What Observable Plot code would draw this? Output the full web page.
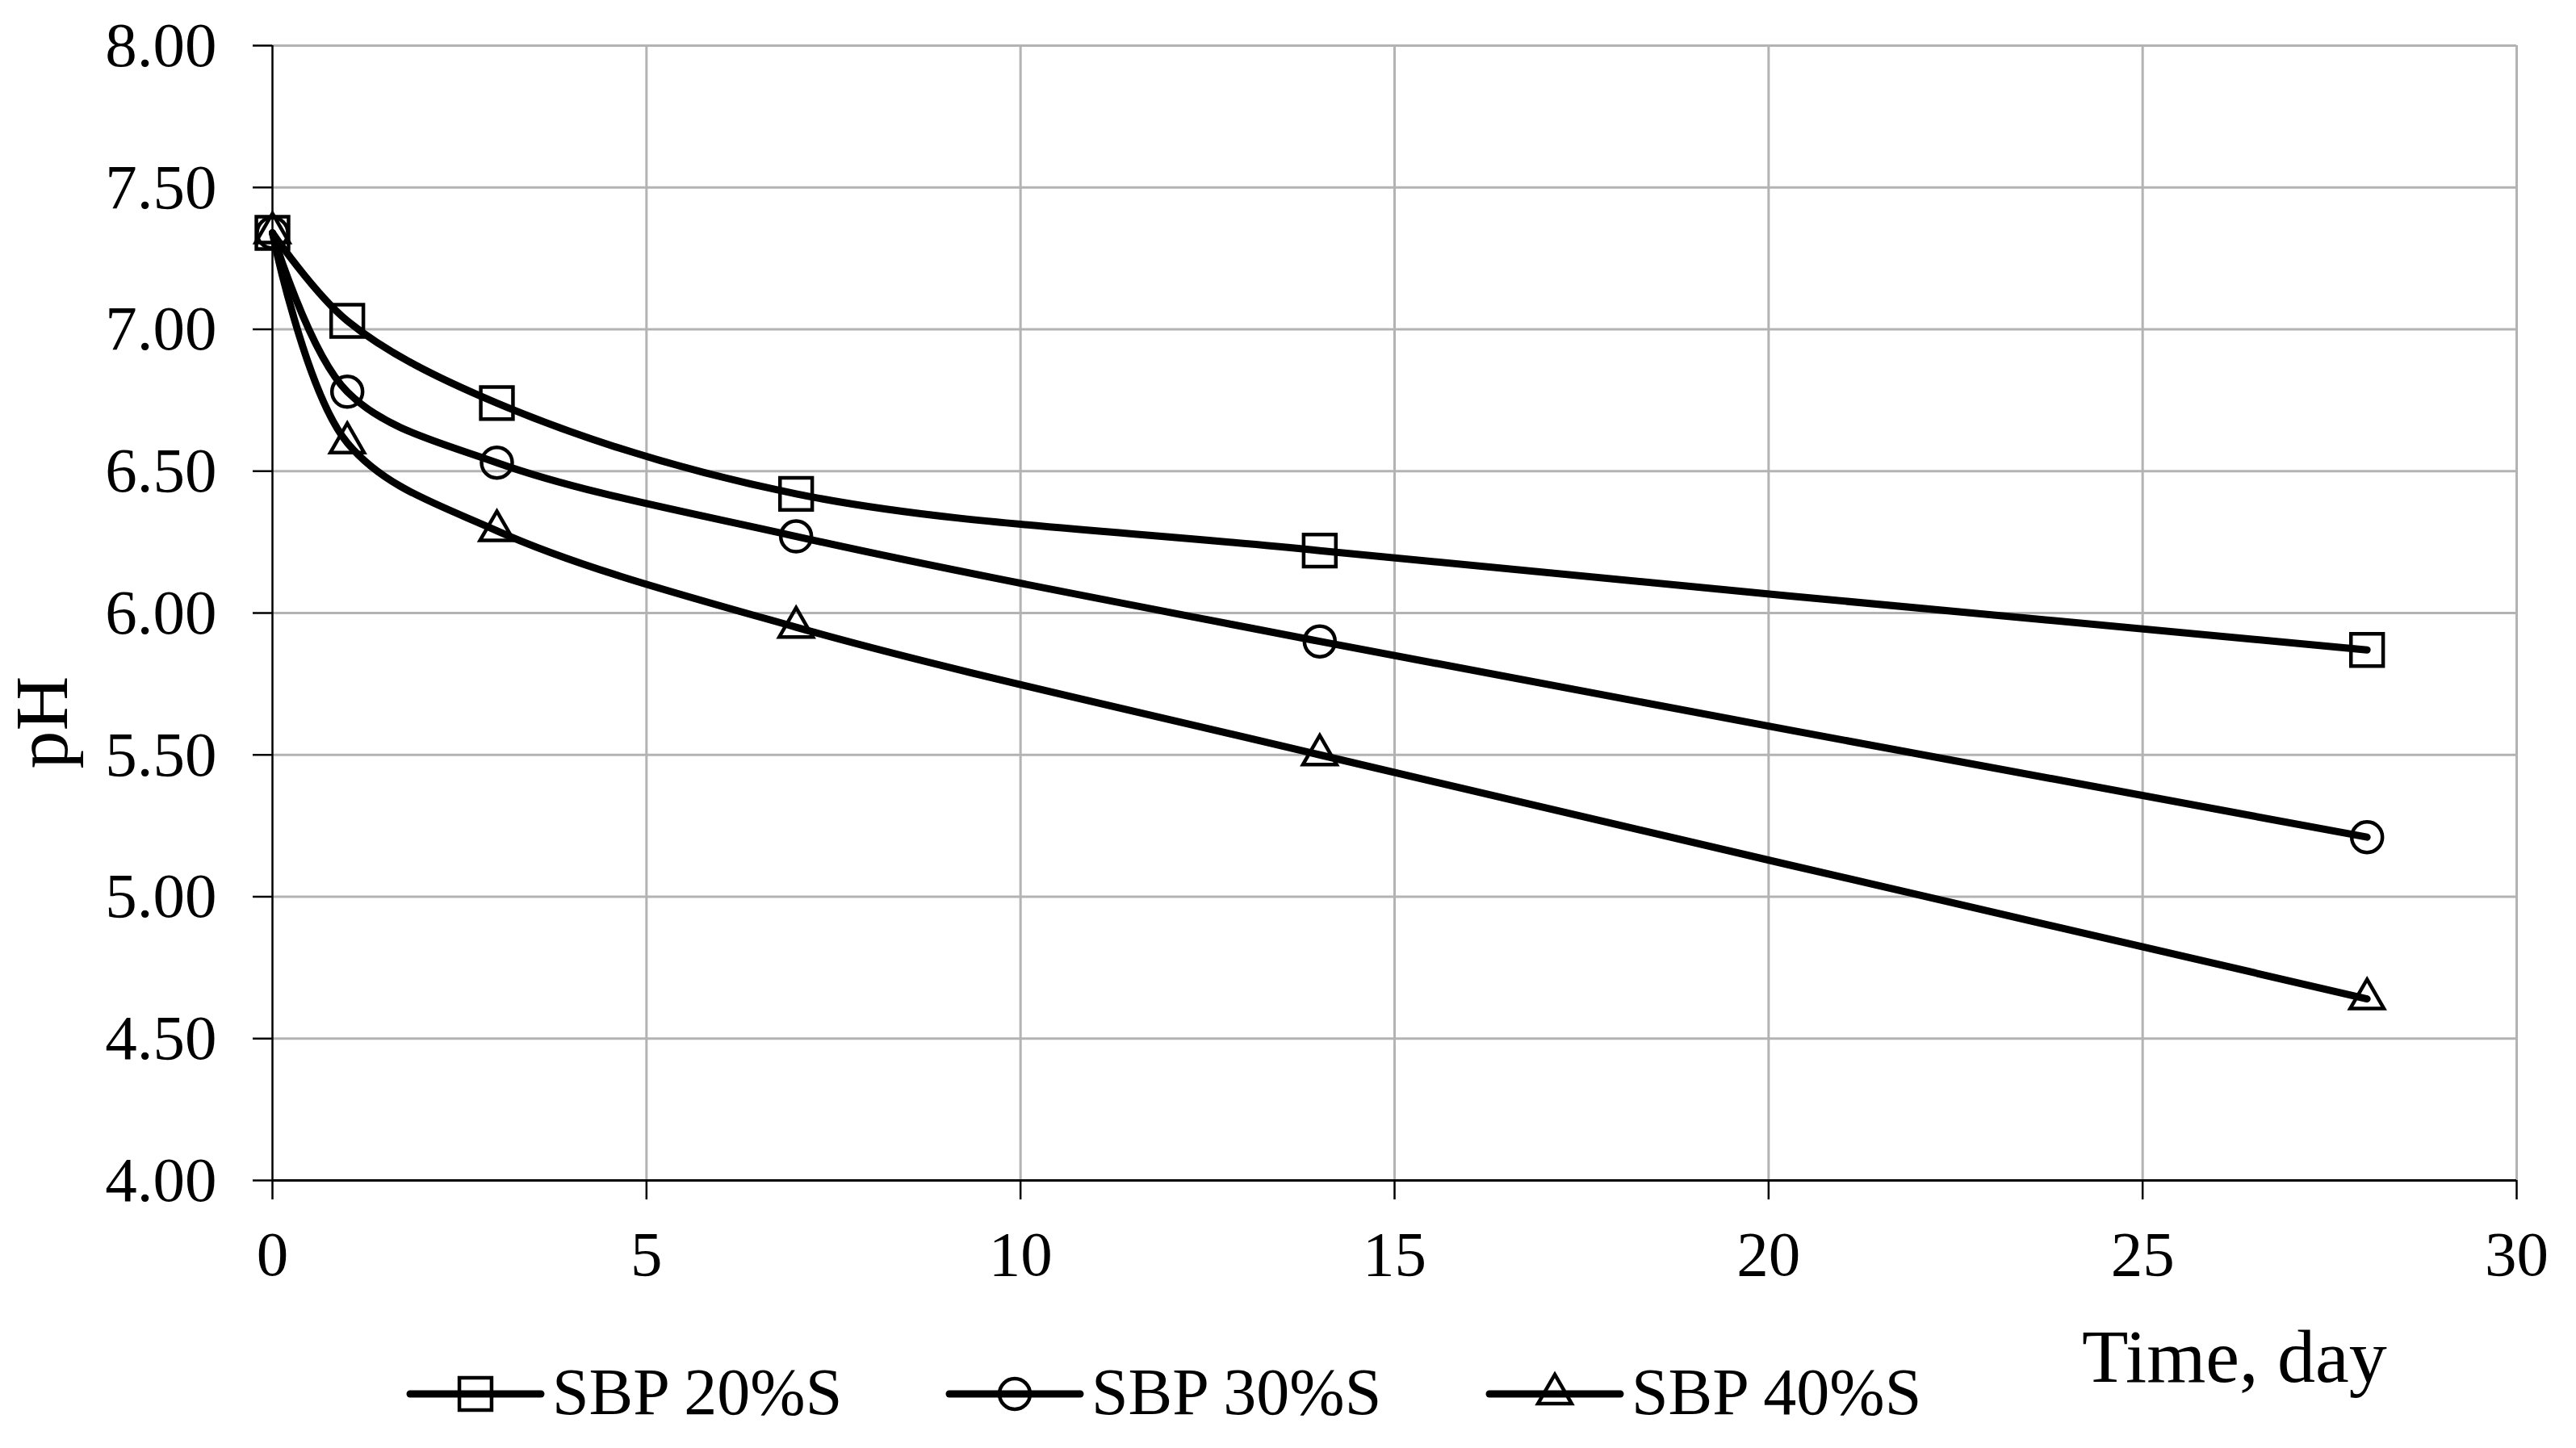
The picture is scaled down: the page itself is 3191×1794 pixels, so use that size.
<!DOCTYPE html>
<html>
<head>
<meta charset="utf-8">
<script src="https://cdn.jsdelivr.net/npm/d3@7"></script>
<script src="https://cdn.jsdelivr.net/npm/@observablehq/plot@0.6"></script>
<style>
  html, body { margin: 0; padding: 0; background: #ffffff; }
  #chart { width: 3191px; height: 1794px; }
</style>
</head>
<body>
<div id="chart"></div>
<script>
// ---- data ----
const days = [0, 1, 3, 7, 14, 28];
const sbp20 = [7.34, 7.03, 6.74, 6.42, 6.22, 5.87];
const sbp30 = [7.34, 6.78, 6.53, 6.27, 5.90, 5.21];
const sbp40 = [7.34, 6.60, 6.29, 5.95, 5.50, 4.64];
const seriesNames = ["SBP 20%S", "SBP 30%S", "SBP 40%S"];
const seriesValues = [sbp20, sbp30, sbp40];
const xTicks = [0, 5, 10, 15, 20, 25, 30];
const yTicks = [4.0, 4.5, 5.0, 5.5, 6.0, 6.5, 7.0, 7.5, 8.0];
const xLabel = "Time, day";
const yLabel = "pH";

// ---- styles ----
const symbolTypes = ["square", "circle", "triangle"];
const d3Symbols = [d3.symbolSquare, d3.symbolCircle, d3.symbolTriangle];
const symbolR = [22.5, 19, 15.5];
const lineW = 9;
const markW = 4.5;
const font = "Liberation Serif, Times New Roman, serif";

const rows = [];
seriesNames.forEach((name, i) => {
  days.forEach((d, j) => rows.push({series: name, day: d, ph: seriesValues[i][j]}));
});

const marks = [
  Plot.gridX(xTicks.slice(1), {stroke: "#b3b3b3", strokeOpacity: 1, strokeWidth: 3}),
  Plot.gridY(yTicks.slice(1), {stroke: "#b3b3b3", strokeOpacity: 1, strokeWidth: 3}),
  Plot.ruleX([0], {stroke: "black", strokeWidth: 2.5}),
  Plot.ruleY([4], {stroke: "black", strokeWidth: 3}),
  Plot.axisX({ticks: xTicks, tickSize: 24, tickPadding: 37, fontSize: 79, label: null, stroke: "black", strokeWidth: 2.5}),
  Plot.axisY({ticks: yTicks, tickSize: 24, tickPadding: 45, fontSize: 79, label: null, tickFormat: d3.format(".2f"), stroke: "black", strokeWidth: 2.5}),
  Plot.line(rows, {x: "day", y: "ph", z: "series", stroke: "black", strokeWidth: lineW, curve: "catmull-rom"})
];
seriesNames.forEach((name, i) => {
  marks.push(Plot.dot(rows.filter(r => r.series === name), {
    x: "day", y: "ph", symbol: () => symbolTypes[i], r: symbolR[i],
    fill: "none", stroke: "black", strokeWidth: markW
  }));
});

const chart = Plot.plot({
  width: 3191,
  height: 1794,
  marginLeft: 337,
  marginRight: 74,
  marginTop: 56,
  marginBottom: 332,
  x: {domain: [0, 30]},
  y: {domain: [4, 8]},
  symbol: {type: "identity"},
  style: {fontFamily: font, fontSize: "79px", color: "black", background: "white"},
  marks
});
document.getElementById("chart").appendChild(chart);

// ---- axis titles and legend ----
const svg = d3.select(chart);
svg.append("text")
  .attr("transform", "translate(83,895) rotate(-90)")
  .attr("text-anchor", "middle")
  .attr("font-family", font).attr("font-size", 94).attr("fill", "black")
  .text(yLabel);
svg.append("text")
  .attr("x", 2579).attr("y", 1712)
  .attr("text-anchor", "start")
  .attr("font-family", font).attr("font-size", 94).attr("fill", "black")
  .text(xLabel);

const legendStarts = [508, 1176, 1845];
const legendY = 1727;
seriesNames.forEach((name, i) => {
  const g = svg.append("g").attr("transform", `translate(${legendStarts[i]},${legendY})`);
  g.append("line").attr("x1", 0).attr("x2", 162).attr("y1", 0).attr("y2", 0)
    .attr("stroke", "black").attr("stroke-width", 9).attr("stroke-linecap", "round");
  g.append("path")
    .attr("transform", "translate(81,0)")
    .attr("d", d3.symbol().type(d3Symbols[i]).size(symbolR[i] * symbolR[i] * Math.PI)())
    .attr("fill", "none").attr("stroke", "black").attr("stroke-width", markW);
  g.append("text").attr("x", 176).attr("y", 25)
    .attr("text-anchor", "start")
    .attr("font-family", font).attr("font-size", 82).attr("fill", "black")
    .text(name);
});
</script>
</body>
</html>
